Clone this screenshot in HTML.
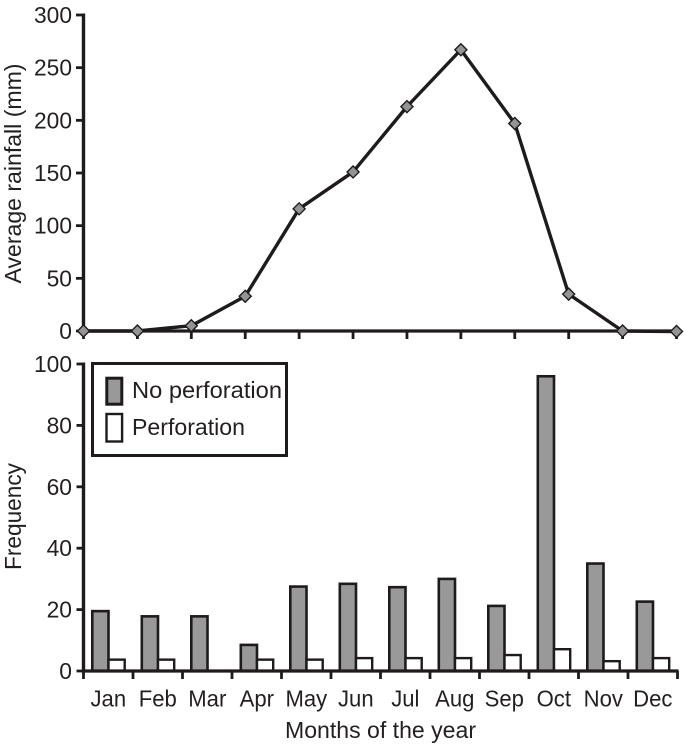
<!DOCTYPE html>
<html lang="en">
<head>
<meta charset="utf-8">
<title>Average rainfall and frequency by month</title>
<style>
  html, body { margin: 0; padding: 0; background: #fff; }
  body { width: 685px; height: 745px; overflow: hidden; }
  svg { display: block; }
  text { font-family: "Liberation Sans", sans-serif; fill: #231f20; }
</style>
</head>
<body>
<svg id="chart" width="685" height="745" viewBox="0 0 685 745" xmlns="http://www.w3.org/2000/svg"></svg>
<script>
const months = ["Jan","Feb","Mar","Apr","May","Jun","Jul","Aug","Sep","Oct","Nov","Dec"];
const rainfall = [0, 0, 5, 33, 116, 151, 213, 267, 197, 35, 0, -0.5];
const noPerforation = [19.5, 17.8, 17.8, 8.5, 27.5, 28.4, 27.3, 30, 21.2, 96, 35, 22.6];
const perforation = [3.7, 3.7, 0, 3.7, 3.7, 4.2, 4.2, 4.2, 5.2, 7.1, 3.2, 4.2];
const rainTicks = [0, 50, 100, 150, 200, 250, 300];
const freqTicks = [0, 20, 40, 60, 80, 100];

const svg = document.getElementById('chart');
const NS = 'http://www.w3.org/2000/svg';
const INK = '#1f1b1c';
const FONT = 23.5;

function make(tag, attrs, parent) {
  const el = document.createElementNS(NS, tag);
  for (const k in attrs) el.setAttribute(k, attrs[k]);
  (parent || svg).appendChild(el);
  return el;
}

function squeeze(el, factor) {
  const len = el.getComputedTextLength();
  el.setAttribute('textLength', (len * factor).toFixed(1));
  el.setAttribute('lengthAdjust', 'spacingAndGlyphs');
}

const left = 83.5;
const topPlot = { y0: 331, y1: 15, max: 300, x0: 83.5, x1: 676.5 };
const botPlot = { y0: 671, y1: 364, max: 100, x0: 83.5, x1: 677.5 };

function yRain(v) { return topPlot.y0 - (v / topPlot.max) * (topPlot.y0 - topPlot.y1); }
function yFreq(v) { return botPlot.y0 - (v / botPlot.max) * (botPlot.y0 - botPlot.y1); }
function xRain(i) { return topPlot.x0 + i * (topPlot.x1 - topPlot.x0) / (months.length - 1); }
function xBand(i) { return botPlot.x0 + i * (botPlot.x1 - botPlot.x0) / months.length; }

/* ---------- top panel ---------- */
const topAxisY = make('line', { x1: left, x2: left, y1: topPlot.y1 - 1.5, y2: topPlot.y0 + 1.5, stroke: INK, 'stroke-width': 3.4 });



const topAxisX = make('line', { x1: left, x2: topPlot.x1 + 1, y1: topPlot.y0, y2: topPlot.y0, stroke: INK, 'stroke-width': 3.2 });



rainTicks.forEach(function (t) {
  const tick = make('line', { x1: 76, x2: left, y1: yRain(t), y2: yRain(t), stroke: INK, 'stroke-width': 2.8 });
  
  
  const label = make('text', { x: 72, y: yRain(t) + 8, 'text-anchor': 'end', 'font-size': FONT });
  label.textContent = t;
  
  
  squeeze(label, 0.97);
});

months.forEach(function (m, i) {
  const tick = make('line', { x1: xRain(i), x2: xRain(i), y1: topPlot.y0, y2: topPlot.y0 + 8, stroke: INK, 'stroke-width': 2.8 });
  
  
});

const rainLine = make('polyline', {
  points: rainfall.map(function (v, i) { return xRain(i) + ',' + yRain(v); }).join(' '),
  fill: 'none', stroke: INK, 'stroke-width': 3.4, 'stroke-linejoin': 'round'
});



rainfall.forEach(function (v, i) {
  const x = xRain(i), y = yRain(v), r = 6;
  const pt = make('polygon', {
    points: x + ',' + (y - r) + ' ' + (x + r) + ',' + y + ' ' + x + ',' + (y + r) + ' ' + (x - r) + ',' + y,
    fill: '#949494', stroke: INK, 'stroke-width': 1.4
  });
  
  
});

const rainTitle = make('text', { transform: 'translate(21,173.5) rotate(-90)', 'text-anchor': 'middle', 'font-size': FONT, textLength: 220, lengthAdjust: 'spacingAndGlyphs' });
rainTitle.textContent = 'Average rainfall (mm)';



/* ---------- bottom panel ---------- */
const barW = 16.2;
const barOffset = 8.8;

months.forEach(function (m, i) {
  const x = xBand(i) + barOffset;
  const b1 = make('rect', { x: x, y: yFreq(noPerforation[i]), width: barW, height: yFreq(0) - yFreq(noPerforation[i]), fill: '#999999', stroke: INK, 'stroke-width': 2.6 });
  
  
  if (perforation[i] > 0) {
    const b2 = make('rect', { x: x + barW, y: yFreq(perforation[i]), width: barW, height: yFreq(0) - yFreq(perforation[i]), fill: '#ffffff', stroke: INK, 'stroke-width': 2.4 });
    
    
  }
});

const botAxisY = make('line', { x1: left, x2: left, y1: botPlot.y1 - 1.5, y2: botPlot.y0 + 1.5, stroke: INK, 'stroke-width': 3.4 });



const botAxisX = make('line', { x1: left, x2: botPlot.x1 + 1, y1: botPlot.y0, y2: botPlot.y0, stroke: INK, 'stroke-width': 3.2 });



freqTicks.forEach(function (t) {
  const tick = make('line', { x1: 76.5, x2: left, y1: yFreq(t), y2: yFreq(t), stroke: INK, 'stroke-width': 2.8 });
  
  
  const label = make('text', { x: 72, y: yFreq(t) + 8, 'text-anchor': 'end', 'font-size': FONT });
  label.textContent = t;
  
  
  squeeze(label, 0.97);
});

for (let i = 0; i <= months.length; i++) {
  const tick = make('line', { x1: xBand(i), x2: xBand(i), y1: botPlot.y0, y2: botPlot.y0 + 8, stroke: INK, 'stroke-width': 2.8 });
  
  
}

months.forEach(function (m, i) {
  const label = make('text', { x: xBand(i) + 24.8, y: 706.5, 'text-anchor': 'middle', 'font-size': FONT });
  label.textContent = m;
  
  
  squeeze(label, 0.94);
});

const freqTitle = make('text', { transform: 'translate(21,516.5) rotate(-90)', 'text-anchor': 'middle', 'font-size': FONT, textLength: 107, lengthAdjust: 'spacingAndGlyphs' });
freqTitle.textContent = 'Frequency';



const xTitle = make('text', { x: 380.5, y: 738, 'text-anchor': 'middle', 'font-size': FONT, textLength: 191, lengthAdjust: 'spacingAndGlyphs' });
xTitle.textContent = 'Months of the year';



/* ---------- legend ---------- */
const legend = make('g', {});



const legendBox = make('rect', { x: 92.5, y: 363.5, width: 194, height: 92, fill: '#ffffff', stroke: INK, 'stroke-width': 3 }, legend);



const swatch1 = make('rect', { x: 106.8, y: 378.2, width: 15, height: 26, fill: '#999999', stroke: INK, 'stroke-width': 3 }, legend);



const swatch2 = make('rect', { x: 106.5, y: 414, width: 15.6, height: 27.5, fill: '#ffffff', stroke: INK, 'stroke-width': 2.4 }, legend);



const legendText1 = make('text', { x: 132, y: 398, 'font-size': FONT, textLength: 150, lengthAdjust: 'spacingAndGlyphs' }, legend);
legendText1.textContent = 'No perforation';



const legendText2 = make('text', { x: 132, y: 435, 'font-size': FONT, textLength: 113, lengthAdjust: 'spacingAndGlyphs' }, legend);
legendText2.textContent = 'Perforation';


</script>
</body>
</html>
